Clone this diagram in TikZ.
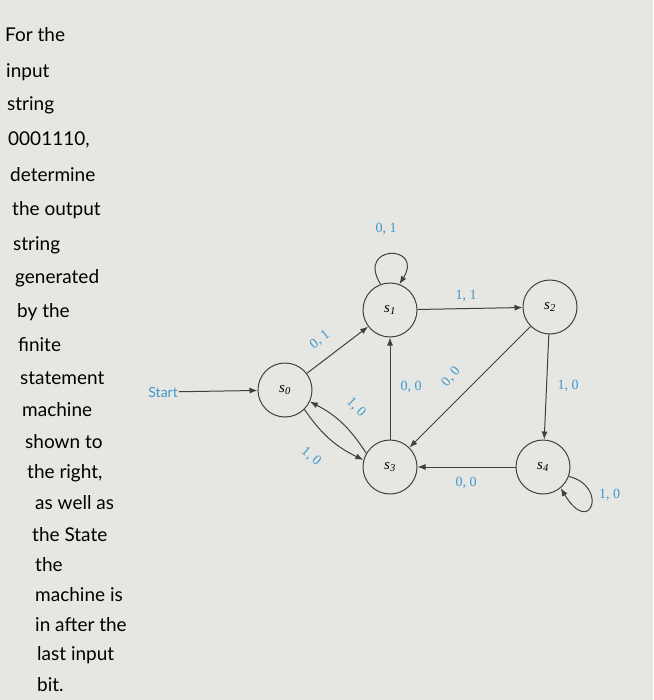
\documentclass[tikz,border=0pt]{standalone}
\usepackage{fontspec}
\setmainfont{Lato}
\newfontfamily\serf{Liberation Serif}
\usetikzlibrary{arrows.meta}
\definecolor{bg}{HTML}{E6E6E3}
\definecolor{lbl}{HTML}{3E98CF}
\begin{document}
\begin{tikzpicture}[x=1pt,y=-1pt,
  st/.style={circle,draw=black!75,line width=1pt,minimum size=54pt,inner sep=0pt,font=\serf\itshape\fontsize{15}{15}\selectfont},
  ed/.style={draw=black!75,line width=1pt,-{Latex[length=8pt,width=6pt]}},
  lb/.style={text=lbl,font=\serf\fontsize{14}{14}\selectfont,inner sep=1pt},
  tx/.style={anchor=west,font=\fontsize{19}{19}\selectfont,inner sep=0pt}]
\fill[bg] (0,0) rectangle (653,700);
\useasboundingbox (0,0) rectangle (653,700);
\foreach \t/\x/\y in {For the/5/35,input/6/72,string/7/105,{0001110,}/8/140,determine/10/175,the output/12/210,string/13/245,generated/15/278,by the/17/312,finite/18/345,statement/20/378,machine/22/410,shown to/25/442,{the right,}/27/473,as well as/35/503,the State/32/535,the/35/565,machine is/35/595,in after the/35/625,last input/37/655,bit./37/685}
  \node[tx] at (\x,\y) {\t};
\node (s0) [st] at (285,390) {s\textsubscript{0}};
\node (s1) [st] at (390,310) {s\textsubscript{1}};
\node (s2) [st] at (550,307) {s\textsubscript{2}};
\node (s3) [st] at (390,467) {s\textsubscript{3}};
\node (s4) [st] at (543,467) {s\textsubscript{4}};
\node (start) [lb,anchor=east,font=\fontsize{14}{14}\selectfont] at (179,392) {Start};
\draw[ed] (start) -- (s0);
\draw[ed] (s0) -- (s1);
\node[lb,rotate=37] at (320,340) {0, 1};
\draw[ed] (s1) -- (s2);
\node[lb] at (466,296) {1, 1};
\draw[ed] (s3) -- (s1);
\node[lb] at (411,387) {0, 0};
\draw[ed] (s2) -- (s3);
\node[lb,rotate=50] at (451,377) {0, 0};
\draw[ed] (s2) -- (s4);
\node[lb] at (568,386) {1, 0};
\draw[ed] (s4) -- (s3);
\node[lb] at (466,483) {0, 0};
\draw[ed] (s3.150) to[bend right=15] (s0.-25);
\node[lb,rotate=-45] at (356,407) {1, 0};
\draw[ed] (s0.-45) to[bend right=15] (s3.165);
\node[lb,rotate=-40] at (311,457) {1, 0};
\draw[ed] (s1.110) .. controls +(-25,-40) and +(25,-40) .. (s1.70);
\node[lb] at (386,229) {0, 1};
\draw[ed] (s4.-20) .. controls +(40,10) and +(30,50) .. (s4.-50);
\node[lb,anchor=west] at (598,495) {1, 0};
\end{tikzpicture}
\end{document}
